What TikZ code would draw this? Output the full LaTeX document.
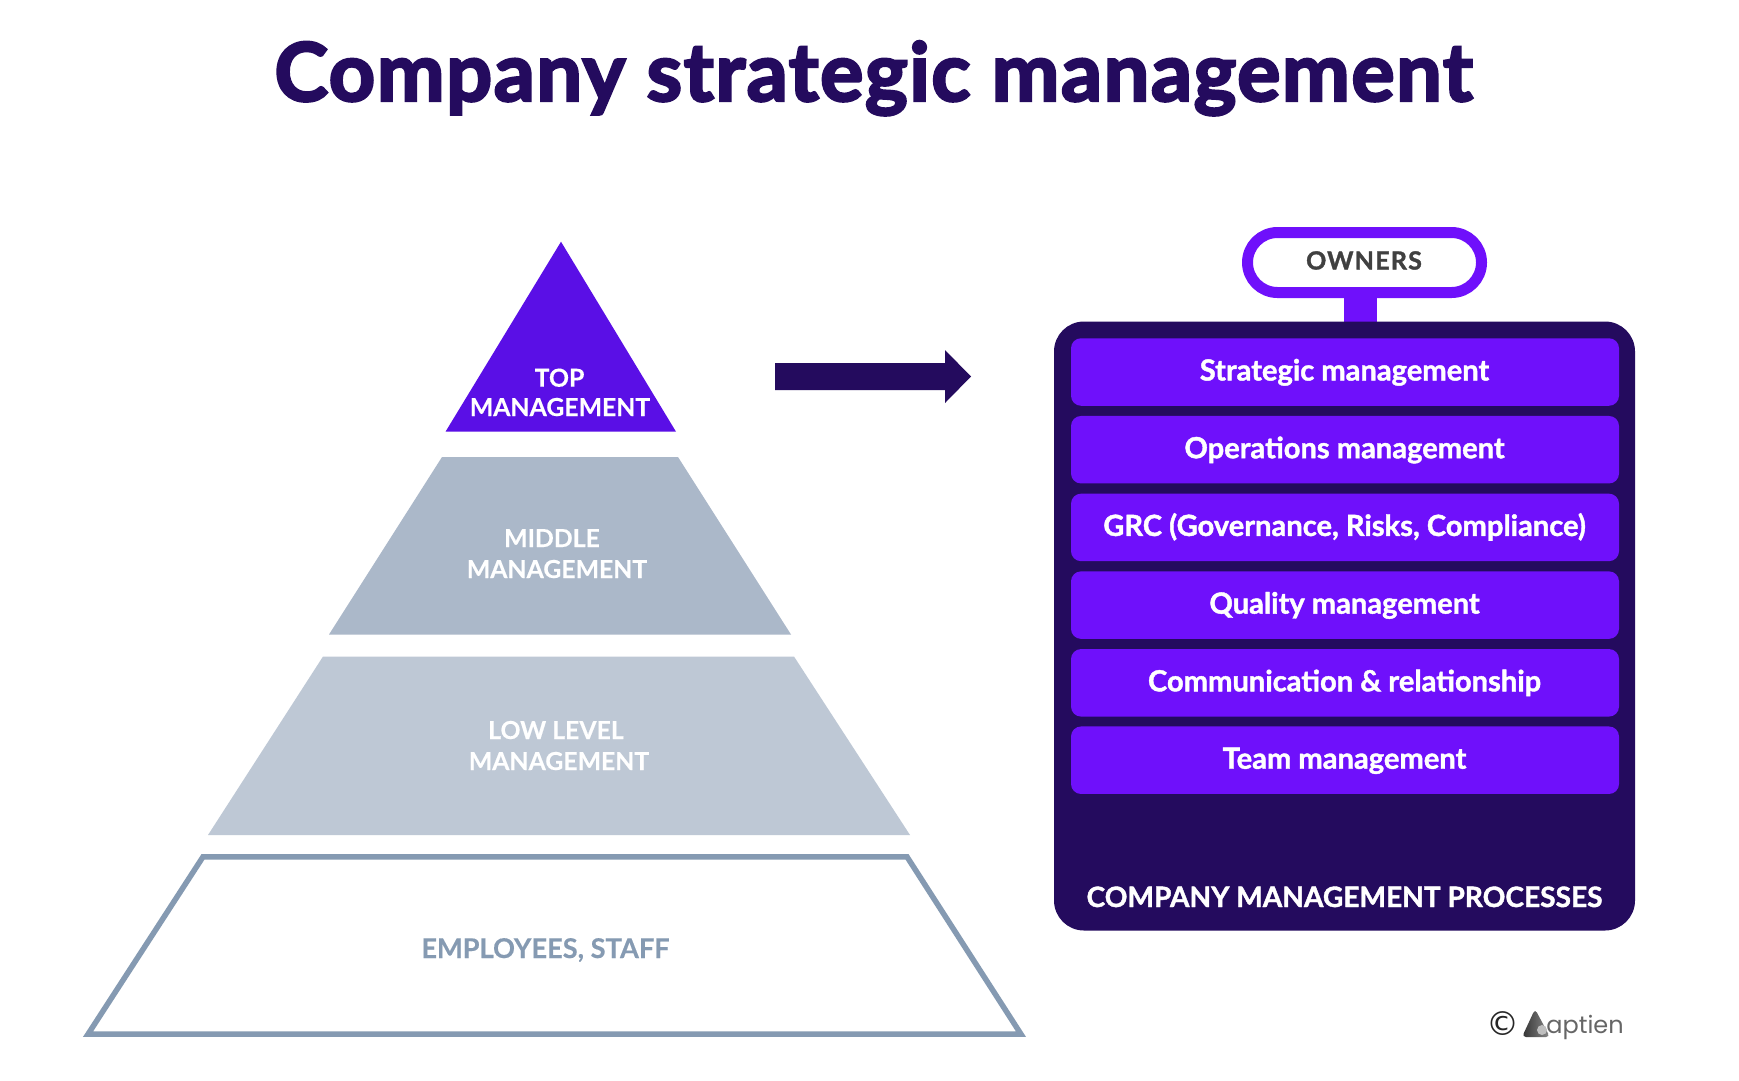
\documentclass[tikz,border=0pt]{standalone}
\usepackage{fontspec}
\setmainfont{Lato}
\newfontfamily\titlefont[FakeBold=3,LetterSpace=1.9]{Lato Bold}
\newfontfamily\heavyfont[FakeBold=1.4]{Lato Bold}
\newfontfamily\medfont[FakeBold=0.3]{Lato Bold}
\newfontfamily\logofont{Poppins}
\newfontfamily\symfont{DejaVu Sans}
\usetikzlibrary{shadings}
\definecolor{vio}{HTML}{6F10FB}
\definecolor{dark}{HTML}{240B5E}
\definecolor{topc}{HTML}{5A0FE6}
\definecolor{midc}{HTML}{ABB8C9}
\definecolor{lowc}{HTML}{BEC8D5}
\definecolor{edgec}{HTML}{859AB2}
\tikzset{
  x=1pt,y=-1pt,
  lbl/.style={anchor=base,inner sep=0pt,font=\medfont\fontsize{24.8}{24.8}\selectfont,text=white},
  proc/.style={rectangle,rounded corners=10pt,fill=vio,draw=none,minimum width=548pt,minimum height=67.5pt,inner sep=0pt},
  proctext/.style={anchor=base,inner sep=0pt,font=\heavyfont\fontsize{29.1}{29.1}\selectfont,text=white},
}
\begin{document}
\begin{tikzpicture}
\useasboundingbox (0,0) rectangle (1739,1080);
\fill[white] (0,0) rectangle (1739,1080);
\node[anchor=base,inner sep=0pt,font=\titlefont\fontsize{81}{81}\selectfont,text=dark] (title) at (873.5,101) {Company strategic management};
% pyramid
\fill[topc] (561,241.7) -- (676,431.7) -- (445.5,431.7) -- cycle;
\fill[midc] (442,457) -- (678,457) -- (791,634.5) -- (329,634.5) -- cycle;
\fill[lowc] (323,656.5) -- (794,656.5) -- (910,835) -- (208,835) -- cycle;
\draw[edgec,line width=5.5pt,miter limit=10] (203,856.8) -- (907,856.8) -- (1021,1034.2) -- (88,1034.2) -- cycle;
\node[lbl] (top1) at (559.5,386.7) {TOP};
\node[lbl] (top2) at (560,416) {MANAGEMENT};
\node[lbl] (mid1) at (552,547) {MIDDLE};
\node[lbl] (mid2) at (557,578) {MANAGEMENT};
\node[lbl] (low1) at (556,739) {LOW LEVEL};
\node[lbl] (low2) at (559,770) {MANAGEMENT};
\node[lbl,text=edgec,font=\medfont\fontsize{27.2}{27.2}\selectfont] (emp) at (545.5,958) {EMPLOYEES, STAFF};
% arrow
\coordinate (tail) at (775,376.5);
\fill[dark] (775,363) -- (945,363) -- (945,350) -- (971,376.5) -- (945,403) -- (945,390) -- (775,390) -- cycle;
% owners stem
\coordinate (stemtop) at (1360.5,295);
\coordinate (stembot) at (1360.5,325);
\draw[vio,line width=33pt] (stemtop) -- (stembot);
% panel
\node[rectangle,rounded corners=30pt,fill=dark,minimum width=581pt,minimum height=609pt,inner sep=0pt] (panel) at (1344.5,626) {};
\node[rectangle,rounded corners=30pt,draw=vio,line width=11pt,fill=white,minimum width=234pt,minimum height=60pt,inner sep=0pt] (owners) at (1364.5,262.5) {};
\node[anchor=base,inner sep=0pt,text=black!75,font=\heavyfont\fontsize{25}{25}\selectfont,] (ownerst) at (1364,269.5) {\addfontfeature{LetterSpace=5}OWNERS};
% process bars
\foreach \i/\t/\yc in {a/Strategic management/372,b/Operations management/449.7,c/{GRC (Governance, Risks, Compliance)}/527.4,d/Quality management/605.1,e/Communication \& relationship/682.8,f/Team management/760.2}{
  \node[proc] (bar\i) at (1345,\yc) {};
  \node[proctext] (txt\i) at (1344.5,\yc+8.5) {\t};
}
\node[anchor=base,inner sep=0pt,text=white,font=\heavyfont\fontsize{28.1}{28.1}\selectfont] (caption) at (1344.5,907) {COMPANY MANAGEMENT PROCESSES};
% logo
\node[inner sep=0pt,font=\symfont\fontsize{33}{33}\selectfont,text=black!85] (copy) at (1502.5,1024) {©};
\shade[left color=black!80,right color=black!45,rounded corners=4pt] (1535,1009) -- (1550,1037) -- (1522,1037) -- cycle;
\fill[black!25] (1542,1030) circle (5pt);
\node[anchor=base,inner sep=0pt,font=\logofont\fontsize{24}{24}\selectfont,text=black!60] (logo) at (1585,1033) {aptien};
\end{tikzpicture}
\end{document}
